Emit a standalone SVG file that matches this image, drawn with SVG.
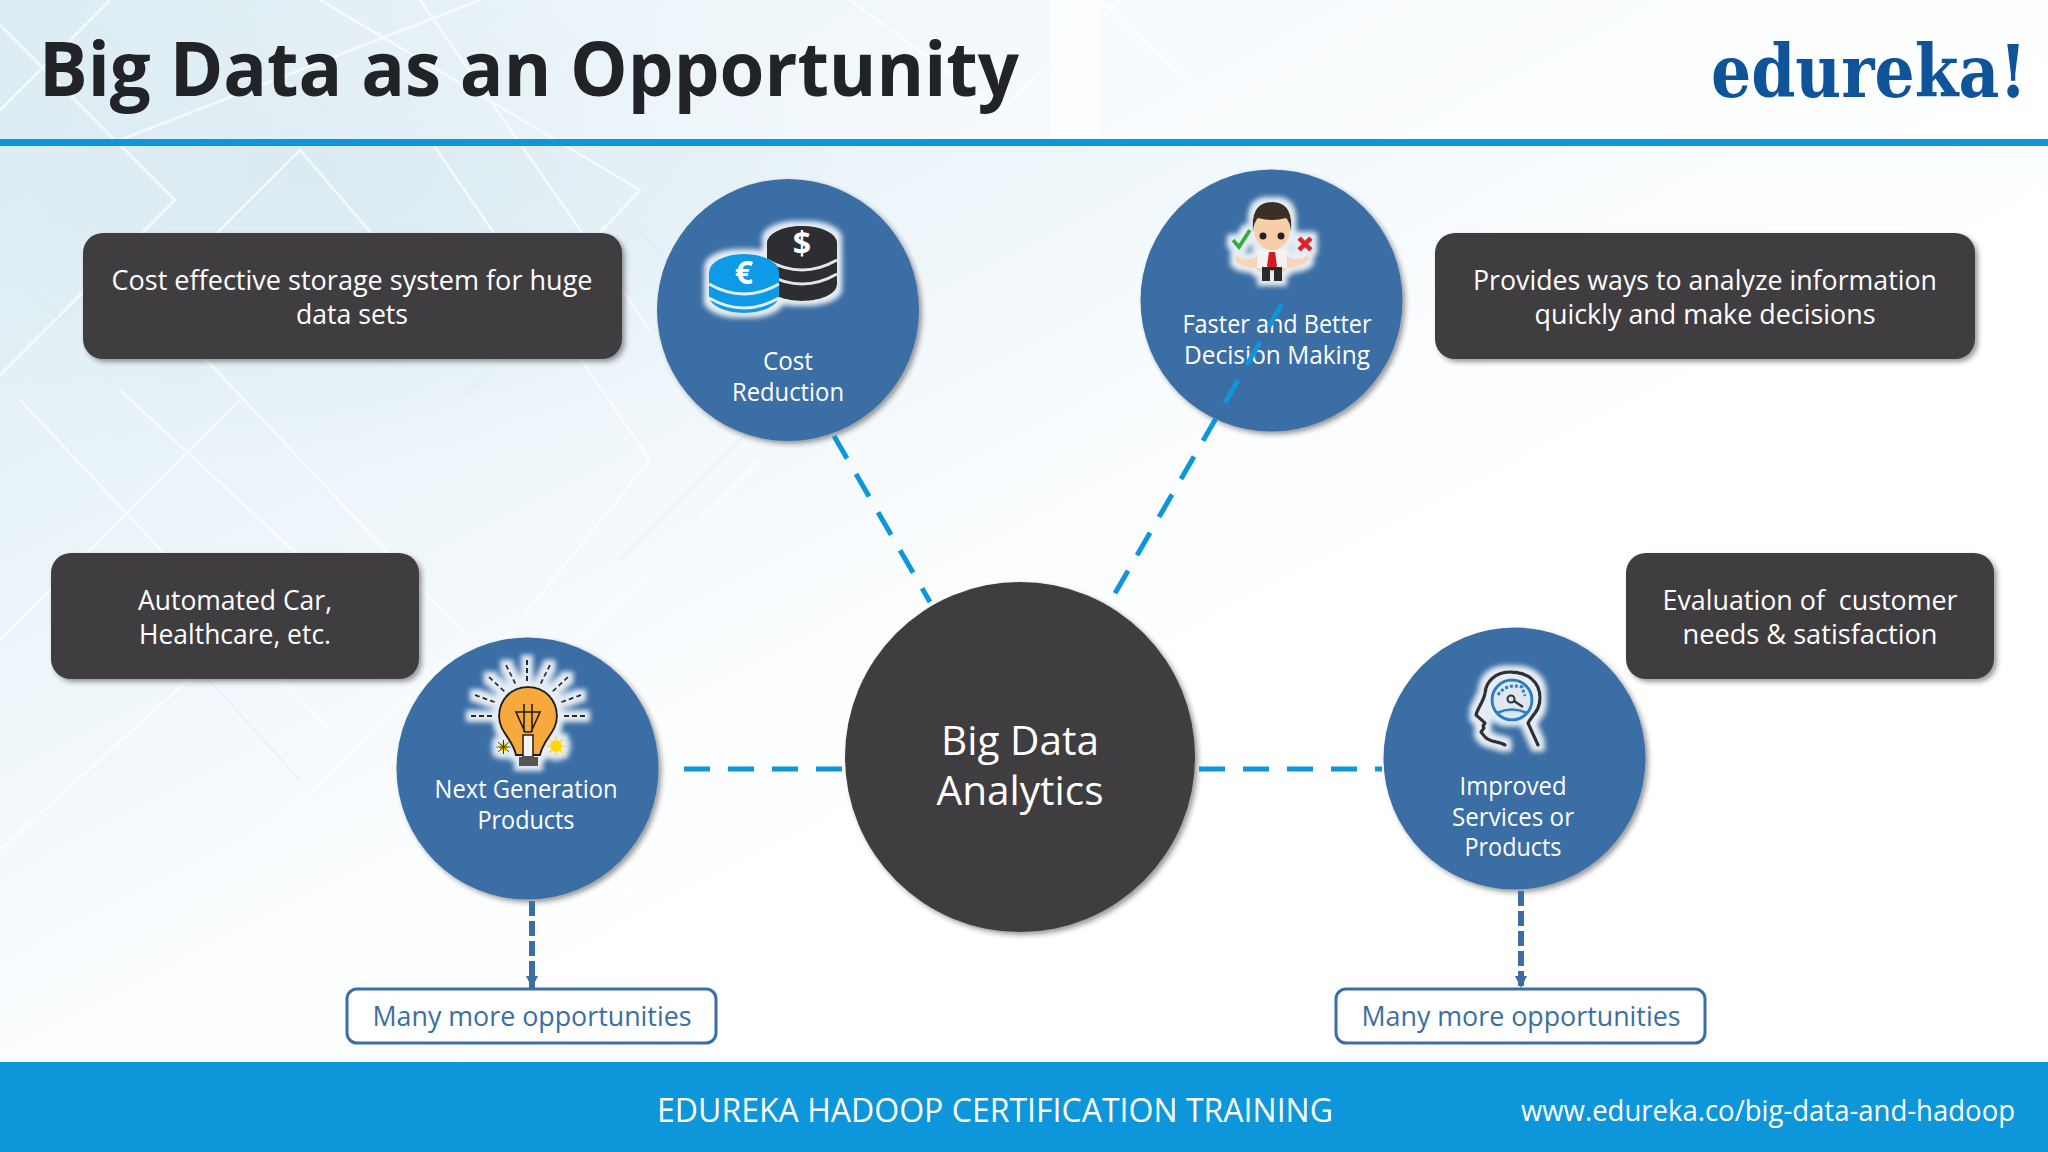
<svg xmlns="http://www.w3.org/2000/svg" width="2048" height="1152" viewBox="0 0 2048 1152">
<style>
text{font-family:"Open Sans","Noto Sans","Liberation Sans",sans-serif;text-anchor:middle}
.w{fill:#fff}
.c{fill:#3a6ea5;filter:url(#sh)}
.d{fill:#3f3e41;filter:url(#sh)}
.o{fill:#fff;stroke:#3a6ea5;stroke-width:3}
.m{fill:#3a6ea5;font-size:28px}
.b{font-size:28px}
.n{font-size:25px}
.l1{fill:none;stroke:#0d96d9;stroke-width:5;stroke-dasharray:26 18}
.l2{fill:none;stroke:#3a6ea5;stroke-width:6;stroke-dasharray:15 5}
.bg{fill:none;stroke:#fff;stroke-width:2.5;opacity:.7}
.bg2{fill:none;stroke:#cfe3ec;stroke-width:1.5;opacity:.35}
</style>
<defs>
<linearGradient id="bgg" x1="0" y1="0" x2="1" y2="1"><stop offset="0" stop-color="#dcedf5"/><stop offset=".28" stop-color="#eaf4f9"/><stop offset=".5" stop-color="#fbfdfe"/><stop offset=".62" stop-color="#fff"/></linearGradient>
<radialGradient id="top" cx=".28" cy=".28" r=".5"><stop offset="0" stop-color="#d8e9f0" stop-opacity=".7"/><stop offset="1" stop-color="#d8e9f0" stop-opacity="0"/></radialGradient>
<linearGradient id="hd" x1="0" y1="0" x2="1" y2="0"><stop offset="0" stop-color="#fff" stop-opacity="0"/><stop offset=".7" stop-color="#fff" stop-opacity=".8"/><stop offset="1" stop-color="#fff"/></linearGradient>
<filter id="sh" x="-10%" y="-10%" width="125%" height="125%"><feDropShadow dx="3" dy="3" stdDeviation="2.5" flood-color="#222" flood-opacity=".45"/></filter>
<filter id="gl" x="-20%" y="-20%" width="140%" height="140%"><feMorphology in="SourceAlpha" operator="dilate" radius="5" result="m"/><feGaussianBlur in="m" stdDeviation="2.5" result="b"/><feFlood flood-color="#e6edf4"/><feComposite in2="b" operator="in" result="g"/><feMerge><feMergeNode in="g"/><feMergeNode in="SourceGraphic"/></feMerge></filter>
<marker id="ah" viewBox="0 0 12 12" markerUnits="userSpaceOnUse" markerWidth="13" markerHeight="12" refX="12" refY="6" orient="auto"><path d="M0 0L12 6L0 12Z" fill="#3a6ea5"/></marker>
</defs>

<g id="background">
<rect width="2048" height="1152" fill="#fff"/>
<rect width="2048" height="1062" fill="url(#bgg)"/>
<rect x="0" y="0" width="1100" height="600" fill="url(#top)"/>
<path class="bg" d="M-20 130L110 0M0 25L175 200L0 375M120 140L480 0M320 0L640 190L480 360L300 150L150 300L470 640L250 850M420 0L650 330M430 140L650 460L455 700L120 390M0 640L240 400M20 400L330 730M0 850L210 660M560 660L760 460M620 900L760 780M850 0L1000 110L1120 0M1100 0L1240 130" />
<path class="bg2" d="M60 0L240 150L60 320L-30 230M200 0L360 140M460 400L640 230L780 400L620 560M100 560L300 780"/>
<rect x="0" y="0" width="1100" height="140" fill="url(#hd)" opacity=".5"/>
<rect x="1050" y="0" width="998" height="139" fill="#fff" opacity=".6"/>
</g>

<g id="header">
<text x="529" y="96" font-size="75" font-weight="700" fill="#222326" textLength="980" lengthAdjust="spacingAndGlyphs">Big Data as an Opportunity</text>
<text x="1869" y="97" font-size="72" font-weight="700" fill="#0f5499" textLength="316" lengthAdjust="spacingAndGlyphs" style="font-family:'DejaVu Serif',serif">edureka!</text>
<rect y="139" width="2048" height="7" fill="#0d96d9"/>
</g>

<g id="box-cost"><rect class="d" x="83" y="233" width="539" height="126" rx="20"/>
<text class="w b" x="352" y="290" textLength="481" lengthAdjust="spacingAndGlyphs">Cost effective storage system for huge</text>
<text class="w b" x="352" y="324" textLength="112" lengthAdjust="spacingAndGlyphs">data sets</text></g>
<g id="box-decision"><rect class="d" x="1435" y="233" width="540" height="126" rx="20"/>
<text class="w b" x="1705" y="290" textLength="464" lengthAdjust="spacingAndGlyphs">Provides ways to analyze information</text>
<text class="w b" x="1705" y="324" textLength="341" lengthAdjust="spacingAndGlyphs">quickly and make decisions</text></g>
<g id="box-next"><rect class="d" x="51" y="553" width="368" height="126" rx="20"/>
<text class="w b" x="235" y="610" textLength="194" lengthAdjust="spacingAndGlyphs">Automated Car,</text>
<text class="w b" x="235" y="644" textLength="192" lengthAdjust="spacingAndGlyphs">Healthcare, etc.</text></g>
<g id="box-improved"><rect class="d" x="1626" y="553" width="368" height="126" rx="20"/>
<text class="w b" x="1810" y="610" textLength="295" lengthAdjust="spacingAndGlyphs">Evaluation of&#160; customer</text>
<text class="w b" x="1810" y="644" textLength="255" lengthAdjust="spacingAndGlyphs">needs &amp; satisfaction</text></g>

<g id="node-cost">
<circle class="c" cx="788" cy="310" r="131"/>
<g filter="url(#gl)">
<g fill="#2f2f31"><ellipse cx="802" cy="285" rx="35" ry="16"/><rect x="767" y="243" width="70" height="42"/><ellipse cx="802" cy="243" rx="35" ry="17"/></g>
<path d="M767 260q35 20 70 0M767 274q35 20 70 0" fill="none" stroke="#dfe7ef" stroke-width="3"/>
<ellipse cx="802" cy="243" rx="35" ry="17" fill="#2f2f31"/>
<g fill="#0f9ae6"><ellipse cx="744" cy="296" rx="35" ry="17"/><rect x="709" y="272" width="70" height="24"/></g>
<path d="M709 284q35 20 70 0M709 298q35 20 70 0" fill="none" stroke="#e6eef5" stroke-width="3"/>
<ellipse cx="744" cy="272" rx="35" ry="18" fill="#0f9ae6"/>
</g>
<text class="w" x="802" y="255" font-size="32" font-weight="700">$</text>
<text class="w" x="744" y="284" font-size="32" font-weight="700">€</text>
<text class="w n" x="788" y="370" textLength="50" lengthAdjust="spacingAndGlyphs">Cost</text>
<text class="w n" x="788" y="401" textLength="112" lengthAdjust="spacingAndGlyphs">Reduction</text>
</g>

<g id="node-decision">
<circle class="c" cx="1271.5" cy="300.5" r="131"/>
<g filter="url(#gl)">
<path d="M1236 255q4 5 16 4l12-7h16l12 7q12 1 16-4l1 4q-6 8-22 9l-3 4h-25l-3-4q-18-1-21-9z" fill="#f7d5b5"/>
<rect x="1257" y="250" width="30" height="18" fill="#f2f2f4"/>
<path d="M1269 252h6l2 14-5 5-5-5z" fill="#cf1f25"/>
<path d="M1262 267h20v14h-8v-11h-4v11h-8z" fill="#2a2a2c"/>
<ellipse cx="1272" cy="230" rx="18" ry="20" fill="#f6cfa9"/>
<path d="M1253 232q-3-30 19-30t19 30q-1-10-5-14-14 4-28 0-4 4-5 14z" fill="#3a2d26"/>
<circle cx="1263" cy="236" r="3.5" fill="#222"/><circle cx="1281" cy="236" r="3.5" fill="#222"/>
<path d="M1233 240l6 7 11-17" fill="none" stroke="#2ab13d" stroke-width="4"/>
<path d="M1299 238l12 12M1311 238l-12 12" fill="none" stroke="#e0242a" stroke-width="5"/>
</g>
<text class="w n" x="1277" y="333" textLength="189" lengthAdjust="spacingAndGlyphs">Faster and Better</text>
<text class="w n" x="1277" y="364" textLength="186" lengthAdjust="spacingAndGlyphs">Decision Making</text>
</g>

<g id="node-next">
<circle class="c" cx="527.5" cy="768.5" r="131"/>
<g filter="url(#gl)">
<g fill="none" stroke="#2a2a2a" stroke-width="2" stroke-dasharray="5 3">
<path d="M471 716h24M475 695l22 8M489 677l16 15M506 665l10 20M527 660v22M550 665l-10 20M568 677l-16 15M581 695l-22 8M585 716h-24"/>
</g>
<path d="M528 687c-17 0-29 13-29 29 0 16 13 22 17 39h24c4-17 17-23 17-39 0-16-12-29-29-29z" fill="#f8a93b" stroke="#1e1e1e" stroke-width="2"/>
<path d="M516 712h24l-9 20h-6zM524 704v28M532 704v28" fill="none" stroke="#1e1e1e" stroke-width="1.6"/>
<rect x="523" y="735" width="10" height="22" fill="#f4f4f4" stroke="#1e1e1e" stroke-width="1.5"/>
<path d="M519 757h19v9h-19z" fill="#555"/>
<circle cx="503.500" cy="747" r="4.500" fill="#ffd800"/>
<path d="M496 747h15M503.500 740v14M498 742l11 10M509 742l-11 10" stroke="#333" stroke-width="1"/>
<circle cx="556" cy="746" r="6" fill="#ffd800"/>
<path d="M546 746h20M556 736v20M549 739l14 14M563 739l-14 14" stroke="#ffd800" stroke-width="1.500"/>
</g>
<text class="w n" x="526" y="798" textLength="183" lengthAdjust="spacingAndGlyphs">Next Generation</text>
<text class="w n" x="526" y="829" textLength="97" lengthAdjust="spacingAndGlyphs">Products</text>
</g>

<g id="node-improved">
<circle class="c" cx="1514.5" cy="758.5" r="131"/>
<g filter="url(#gl)">
<path d="M1538 745l-10-22c4-8 12-12 12-25 0-16-12-26-30-26-15 0-24 10-25 21-1 8-8 16-9 22l9 8-2 3 1 2-3 4 4 5c6 6 14 4 20 8" fill="none" stroke="#2f3338" stroke-width="3.500" stroke-linejoin="round" stroke-linecap="round"/>
<circle cx="1512" cy="700" r="20" fill="#dfe8f0" stroke="#2b7cc6" stroke-width="3"/>
<path d="M1497 713q15-7 30 0" fill="none" stroke="#2b7cc6" stroke-width="2.500"/>
<path d="M1498 695q8-12 24-8l3 9" fill="none" stroke="#2b7cc6" stroke-width="3" stroke-dasharray="3 2"/>
<circle cx="1511" cy="699" r="3.500" fill="none" stroke="#333" stroke-width="2"/>
<path d="M1514 701l9 6" stroke="#333" stroke-width="2.500"/>
</g>
<text class="w n" x="1513" y="795" textLength="107" lengthAdjust="spacingAndGlyphs">Improved</text>
<text class="w n" x="1513" y="826" textLength="122" lengthAdjust="spacingAndGlyphs">Services or</text>
<text class="w n" x="1513" y="856" textLength="97" lengthAdjust="spacingAndGlyphs">Products</text>
</g>

<g id="node-center">
<circle class="d" cx="1020" cy="757" r="175"/>
<text class="w" x="1020" y="755" font-size="41" textLength="158" lengthAdjust="spacingAndGlyphs">Big Data</text>
<text class="w" x="1020" y="805" font-size="41" textLength="167" lengthAdjust="spacingAndGlyphs">Analytics</text>
</g>

<g id="more-left"><rect class="o" x="347" y="989" width="369" height="54" rx="10"/>
<text class="m" x="532" y="1026" textLength="319" lengthAdjust="spacingAndGlyphs">Many more opportunities</text></g>
<g id="more-right"><rect class="o" x="1336" y="989" width="369" height="54" rx="10"/>
<text class="m" x="1521" y="1026" textLength="319" lengthAdjust="spacingAndGlyphs">Many more opportunities</text></g>

<g id="connectors">
<line class="l1" x1="834" y1="436" x2="930" y2="602"/>
<line class="l1" x1="1282" y1="304" x2="1110" y2="602"/>
<line class="l1" x1="842" y1="769" x2="673" y2="769"/>
<line class="l1" x1="1199" y1="769" x2="1382" y2="769"/>
<line class="l2" x1="532" y1="901" x2="532" y2="988" marker-end="url(#ah)"/>
<line class="l2" x1="1521" y1="891" x2="1521" y2="988" marker-end="url(#ah)"/>
</g>

<g id="footer">
<rect y="1062" width="2048" height="90" fill="#0d96d9"/>
<text class="w" x="995" y="1122" font-size="33" textLength="676" lengthAdjust="spacingAndGlyphs">EDUREKA HADOOP CERTIFICATION TRAINING</text>
<text class="w" x="1768" y="1121" font-size="29" textLength="494" lengthAdjust="spacingAndGlyphs">www.edureka.co/big-data-and-hadoop</text>
</g>
</svg>
